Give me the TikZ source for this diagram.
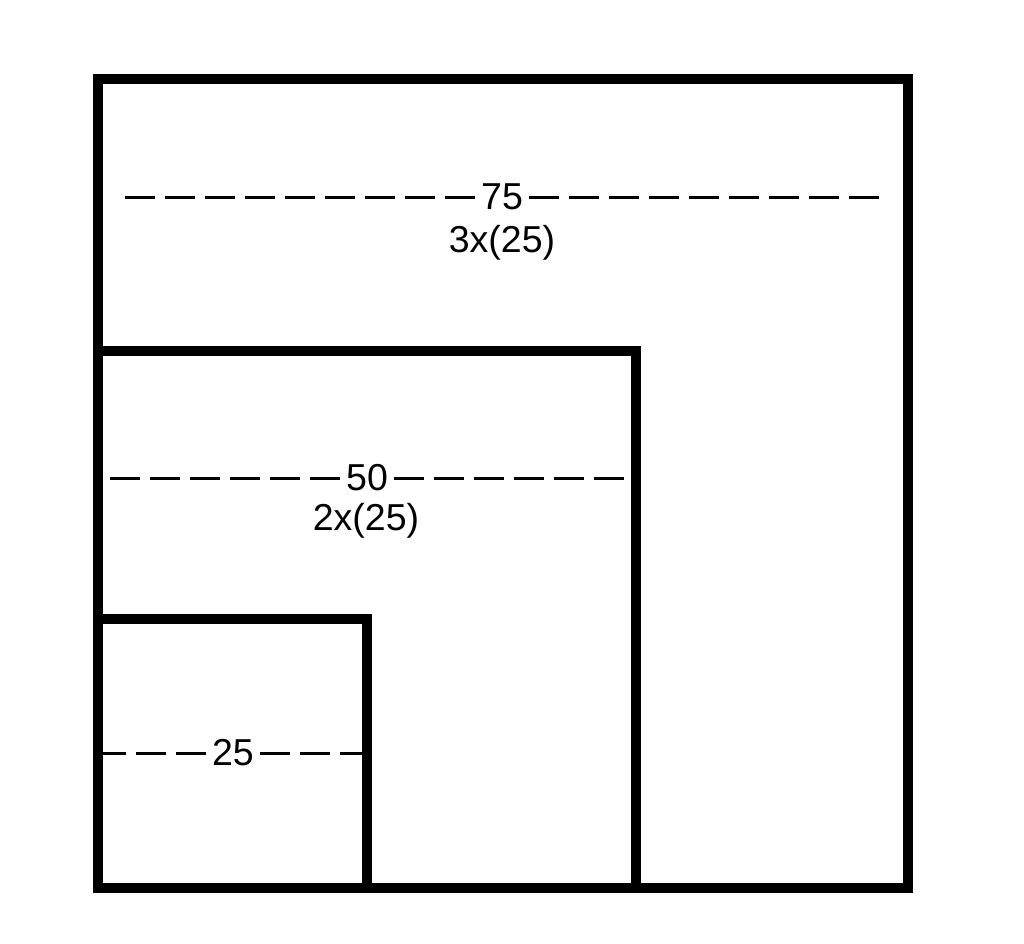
\documentclass[tikz,border=0pt]{standalone}
\usepackage{fontspec}
\setmainfont{Liberation Sans}
\begin{document}
\begin{tikzpicture}[x=1pt,y=-1pt,
  sq/.style={draw=black,line width=10pt,line join=miter},
  dim/.style={draw=black,line width=3pt,dash pattern=on 30pt off 10pt},
  lbl/.style={inner sep=0pt,outer sep=0pt,font=\fontsize{37.5}{42}\selectfont},
  sub/.style={inner sep=0pt,font=\fontsize{37.5}{42}\selectfont}]
\useasboundingbox (0,0) rectangle (1024,943);
\fill[white] (0,0) rectangle (1024,943);
% dimension end points
\coordinate (a1) at (125,197); \coordinate (a2) at (880,197);
\coordinate (b1) at (110,478); \coordinate (b2) at (624,478);
\coordinate (c1) at (103,753); \coordinate (c2) at (362,753);
% labels
\node[lbl] (l75) at (502,197) {75};
\node[sub] (s75) at (502,243) {3x(25)};
\node[lbl] (l50) at (367,478) {50};
\node[sub] (s50) at (366,521) {2x(25)};
\node[lbl] (l25) at (233,753) {25};
% dashed dimension lines, each half starting with a dash at the label
\draw[dim] ([xshift=-6pt]l75.west) -- (a1);
\draw[dim] ([xshift=6pt]l75.east) -- (a2);
\draw[dim] ([xshift=-6pt]l50.west) -- (b1);
\draw[dim] ([xshift=6pt]l50.east) -- (b2);
\draw[dim] ([xshift=-6pt]l25.west) -- (c1);
\draw[dim] ([xshift=6pt]l25.east) -- (c2);
% squares
\draw[sq] (98,78.5) rectangle (907.5,888);
\draw[sq] (98,350.5) rectangle (635.5,888);
\draw[sq] (98,619) rectangle (367,888);
\end{tikzpicture}
\end{document}
